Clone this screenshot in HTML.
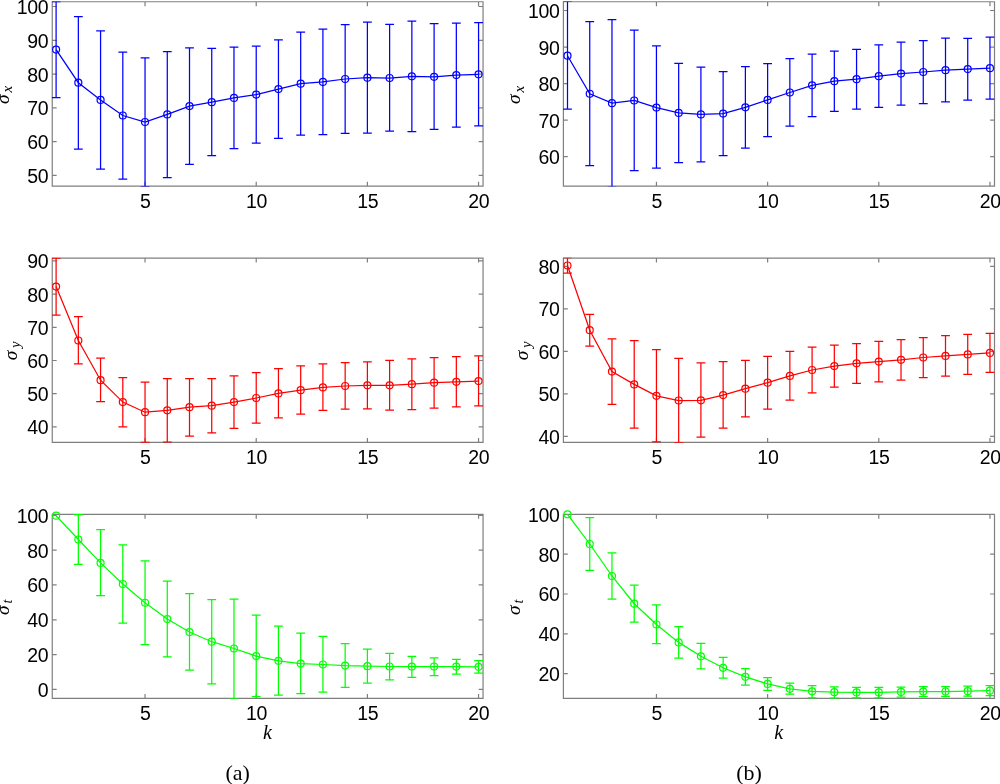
<!DOCTYPE html>
<html lang="en"><head><meta charset="utf-8"><title>Figure</title>
<style>
html,body{margin:0;padding:0;background:#fff;}
body{width:1000px;height:784px;overflow:hidden;}
svg{display:block;}
.t{font-family:"Liberation Sans",Arial,Helvetica,sans-serif;font-size:19.5px;letter-spacing:-0.3px;fill:#000;}
.m{font-family:"Liberation Serif","Times New Roman",serif;font-style:italic;fill:#000;}
.c{font-family:"Liberation Serif","Times New Roman",serif;font-size:22px;fill:#000;}
</style></head>
<body>
<svg width="1000" height="784" viewBox="0 0 1000 784">
<rect x="0" y="0" width="1000" height="784" fill="#fff"/>
<!-- P1 -->
<g>
<clipPath id="cP1"><rect x="51.9" y="1.4" width="431.5" height="185.15"/></clipPath>
<path d="M52.25 1.75H483.05V186.2H52.25ZM145.04 186.2v-4.4M145.04 1.75v4.4M256.22 186.2v-4.4M256.22 1.75v4.4M367.39 186.2v-4.4M367.39 1.75v4.4M478.56 186.2v-4.4M478.56 1.75v4.4M52.25 6.5h4.4M483.05 6.5h-4.4M52.25 40.28h4.4M483.05 40.28h-4.4M52.25 74.06h4.4M483.05 74.06h-4.4M52.25 107.84h4.4M483.05 107.84h-4.4M52.25 141.62h4.4M483.05 141.62h-4.4M52.25 175.4h4.4M483.05 175.4h-4.4" fill="none" stroke="#000" stroke-opacity="0.5" stroke-width="1.2"/>
<text class="t" x="48.4" y="13.98" text-anchor="end">100</text>
<text class="t" x="48.4" y="47.76" text-anchor="end">90</text>
<text class="t" x="48.4" y="81.54" text-anchor="end">80</text>
<text class="t" x="48.4" y="115.32" text-anchor="end">70</text>
<text class="t" x="48.4" y="149.1" text-anchor="end">60</text>
<text class="t" x="48.4" y="182.88" text-anchor="end">50</text>
<text class="t" x="145.34" y="207.65" text-anchor="middle">5</text>
<text class="t" x="256.52" y="207.65" text-anchor="middle">10</text>
<text class="t" x="367.69" y="207.65" text-anchor="middle">15</text>
<text class="t" x="478.87" y="207.65" text-anchor="middle">20</text>
<g clip-path="url(#cP1)" fill="none" stroke="#0000ff" stroke-width="1.25"><path d="M56.1 1.6V97.6M51.7 1.6h8.8M51.7 97.6h8.8M78.34 16.5V149M73.94 16.5h8.8M73.94 149h8.8M100.57 30.8V169.1M96.17 30.8h8.8M96.17 169.1h8.8M122.81 52.2V179.1M118.41 52.2h8.8M118.41 179.1h8.8M145.04 57.9V186.5M140.64 57.9h8.8M140.64 186.5h8.8M167.28 51.5V177.6M162.88 51.5h8.8M162.88 177.6h8.8M189.51 47.8V164.3M185.11 47.8h8.8M185.11 164.3h8.8M211.74 48.4V155.7M207.34 48.4h8.8M207.34 155.7h8.8M233.98 47.1V148.5M229.58 47.1h8.8M229.58 148.5h8.8M256.22 46V143M251.82 46h8.8M251.82 143h8.8M278.45 39.9V138.3M274.05 39.9h8.8M274.05 138.3h8.8M300.69 32V135.1M296.29 32h8.8M296.29 135.1h8.8M322.92 29.2V134.5M318.52 29.2h8.8M318.52 134.5h8.8M345.16 24.5V133.3M340.76 24.5h8.8M340.76 133.3h8.8M367.39 22.1V133M362.99 22.1h8.8M362.99 133h8.8M389.62 24.4V131.1M385.23 24.4h8.8M385.23 131.1h8.8M411.86 21.1V131.7M407.46 21.1h8.8M407.46 131.7h8.8M434.1 23.6V129.4M429.7 23.6h8.8M429.7 129.4h8.8M456.33 23V127M451.93 23h8.8M451.93 127h8.8M478.56 22.6V125.8M474.17 22.6h8.8M474.17 125.8h8.8"/><path d="M56.1 49.6L78.34 82.7L100.57 99.9L122.81 115.5L145.04 122L167.28 114.4L189.51 106.1L211.74 102.2L233.98 97.9L256.22 94.6L278.45 89.1L300.69 83.7L322.92 81.9L345.16 79L367.39 77.7L389.62 78L411.86 76.3L434.1 76.8L456.33 75.1L478.56 74.3"/></g>
<g fill="none" stroke="#0000ff" stroke-width="1.2"><circle cx="56.1" cy="49.6" r="3.5"/><circle cx="78.34" cy="82.7" r="3.5"/><circle cx="100.57" cy="99.9" r="3.5"/><circle cx="122.81" cy="115.5" r="3.5"/><circle cx="145.04" cy="122" r="3.5"/><circle cx="167.28" cy="114.4" r="3.5"/><circle cx="189.51" cy="106.1" r="3.5"/><circle cx="211.74" cy="102.2" r="3.5"/><circle cx="233.98" cy="97.9" r="3.5"/><circle cx="256.22" cy="94.6" r="3.5"/><circle cx="278.45" cy="89.1" r="3.5"/><circle cx="300.69" cy="83.7" r="3.5"/><circle cx="322.92" cy="81.9" r="3.5"/><circle cx="345.16" cy="79" r="3.5"/><circle cx="367.39" cy="77.7" r="3.5"/><circle cx="389.62" cy="78" r="3.5"/><circle cx="411.86" cy="76.3" r="3.5"/><circle cx="434.1" cy="76.8" r="3.5"/><circle cx="456.33" cy="75.1" r="3.5"/><circle cx="478.56" cy="74.3" r="3.5"/></g>
</g>
<!-- P2 -->
<g>
<clipPath id="cP2"><rect x="51.9" y="257.7" width="431.5" height="185.05"/></clipPath>
<path d="M52.25 258.05H483.05V442.4H52.25ZM145.04 442.4v-4.4M145.04 258.05v4.4M256.22 442.4v-4.4M256.22 258.05v4.4M367.39 442.4v-4.4M367.39 258.05v4.4M478.56 442.4v-4.4M478.56 258.05v4.4M52.25 260.9h4.4M483.05 260.9h-4.4M52.25 294.1h4.4M483.05 294.1h-4.4M52.25 327.3h4.4M483.05 327.3h-4.4M52.25 360.5h4.4M483.05 360.5h-4.4M52.25 393.7h4.4M483.05 393.7h-4.4M52.25 426.9h4.4M483.05 426.9h-4.4" fill="none" stroke="#000" stroke-opacity="0.5" stroke-width="1.2"/>
<text class="t" x="48.4" y="268.38" text-anchor="end">90</text>
<text class="t" x="48.4" y="301.58" text-anchor="end">80</text>
<text class="t" x="48.4" y="334.78" text-anchor="end">70</text>
<text class="t" x="48.4" y="367.98" text-anchor="end">60</text>
<text class="t" x="48.4" y="401.18" text-anchor="end">50</text>
<text class="t" x="48.4" y="434.38" text-anchor="end">40</text>
<text class="t" x="145.34" y="463.85" text-anchor="middle">5</text>
<text class="t" x="256.52" y="463.85" text-anchor="middle">10</text>
<text class="t" x="367.69" y="463.85" text-anchor="middle">15</text>
<text class="t" x="478.87" y="463.85" text-anchor="middle">20</text>
<g clip-path="url(#cP2)" fill="none" stroke="#ff0000" stroke-width="1.25"><path d="M56.1 258V315M51.7 258h8.8M51.7 315h8.8M78.34 316.5V363.8M73.94 316.5h8.8M73.94 363.8h8.8M100.57 358.1V401.7M96.17 358.1h8.8M96.17 401.7h8.8M122.81 377.6V426.8M118.41 377.6h8.8M118.41 426.8h8.8M145.04 382.1V442.4M140.64 382.1h8.8M140.64 442.4h8.8M167.28 378.7V442M162.88 378.7h8.8M162.88 442h8.8M189.51 378.5V436M185.11 378.5h8.8M185.11 436h8.8M211.74 378.5V432.8M207.34 378.5h8.8M207.34 432.8h8.8M233.98 375.8V428.3M229.58 375.8h8.8M229.58 428.3h8.8M256.22 372.5V423.2M251.82 372.5h8.8M251.82 423.2h8.8M278.45 368.6V417.9M274.05 368.6h8.8M274.05 417.9h8.8M300.69 365.9V414.2M296.29 365.9h8.8M296.29 414.2h8.8M322.92 363.8V410.4M318.52 363.8h8.8M318.52 410.4h8.8M345.16 362.7V409M340.76 362.7h8.8M340.76 409h8.8M367.39 361.8V408.9M362.99 361.8h8.8M362.99 408.9h8.8M389.62 360.3V410M385.23 360.3h8.8M385.23 410h8.8M411.86 358.8V409.7M407.46 358.8h8.8M407.46 409.7h8.8M434.1 357.5V408M429.7 357.5h8.8M429.7 408h8.8M456.33 356.5V406.9M451.93 356.5h8.8M451.93 406.9h8.8M478.56 355.8V405.9M474.17 355.8h8.8M474.17 405.9h8.8"/><path d="M56.1 286.6L78.34 340.5L100.57 380.2L122.81 402.1L145.04 412.2L167.28 410.3L189.51 407.2L211.74 405.7L233.98 402.1L256.22 398L278.45 393.4L300.69 390.2L322.92 387.4L345.16 386L367.39 385.3L389.62 385.3L411.86 384.2L434.1 382.7L456.33 381.8L478.56 381.1"/></g>
<g fill="none" stroke="#ff0000" stroke-width="1.2"><circle cx="56.1" cy="286.6" r="3.5"/><circle cx="78.34" cy="340.5" r="3.5"/><circle cx="100.57" cy="380.2" r="3.5"/><circle cx="122.81" cy="402.1" r="3.5"/><circle cx="145.04" cy="412.2" r="3.5"/><circle cx="167.28" cy="410.3" r="3.5"/><circle cx="189.51" cy="407.2" r="3.5"/><circle cx="211.74" cy="405.7" r="3.5"/><circle cx="233.98" cy="402.1" r="3.5"/><circle cx="256.22" cy="398" r="3.5"/><circle cx="278.45" cy="393.4" r="3.5"/><circle cx="300.69" cy="390.2" r="3.5"/><circle cx="322.92" cy="387.4" r="3.5"/><circle cx="345.16" cy="386" r="3.5"/><circle cx="367.39" cy="385.3" r="3.5"/><circle cx="389.62" cy="385.3" r="3.5"/><circle cx="411.86" cy="384.2" r="3.5"/><circle cx="434.1" cy="382.7" r="3.5"/><circle cx="456.33" cy="381.8" r="3.5"/><circle cx="478.56" cy="381.1" r="3.5"/></g>
</g>
<!-- P3 -->
<g>
<clipPath id="cP3"><rect x="51.9" y="514" width="431.5" height="184.75"/></clipPath>
<path d="M52.25 514.35H483.05V698.4H52.25ZM145.04 698.4v-4.4M145.04 514.35v4.4M256.22 698.4v-4.4M256.22 514.35v4.4M367.39 698.4v-4.4M367.39 514.35v4.4M478.56 698.4v-4.4M478.56 514.35v4.4M52.25 515.3h4.4M483.05 515.3h-4.4M52.25 550.13h4.4M483.05 550.13h-4.4M52.25 584.96h4.4M483.05 584.96h-4.4M52.25 619.79h4.4M483.05 619.79h-4.4M52.25 654.62h4.4M483.05 654.62h-4.4M52.25 689.45h4.4M483.05 689.45h-4.4" fill="none" stroke="#000" stroke-opacity="0.5" stroke-width="1.2"/>
<text class="t" x="48.4" y="522.78" text-anchor="end">100</text>
<text class="t" x="48.4" y="557.61" text-anchor="end">80</text>
<text class="t" x="48.4" y="592.44" text-anchor="end">60</text>
<text class="t" x="48.4" y="627.27" text-anchor="end">40</text>
<text class="t" x="48.4" y="662.1" text-anchor="end">20</text>
<text class="t" x="48.4" y="696.93" text-anchor="end">0</text>
<text class="t" x="145.34" y="719.85" text-anchor="middle">5</text>
<text class="t" x="256.52" y="719.85" text-anchor="middle">10</text>
<text class="t" x="367.69" y="719.85" text-anchor="middle">15</text>
<text class="t" x="478.87" y="719.85" text-anchor="middle">20</text>
<g clip-path="url(#cP3)" fill="none" stroke="#00ff00" stroke-width="1.25"><path d="M78.34 514.5V564.3M73.94 514.5h8.8M73.94 564.3h8.8M100.57 529.6V595.6M96.17 529.6h8.8M96.17 595.6h8.8M122.81 544.9V623.1M118.41 544.9h8.8M118.41 623.1h8.8M145.04 560.8V644.5M140.64 560.8h8.8M140.64 644.5h8.8M167.28 581.2V656.9M162.88 581.2h8.8M162.88 656.9h8.8M189.51 593.6V670.2M185.11 593.6h8.8M185.11 670.2h8.8M211.74 599.5V683.9M207.34 599.5h8.8M207.34 683.9h8.8M233.98 599.2V698.5M229.58 599.2h8.8M229.58 698.5h8.8M256.22 615.1V696.6M251.82 615.1h8.8M251.82 696.6h8.8M278.45 626.2V695.1M274.05 626.2h8.8M274.05 695.1h8.8M300.69 633.2V693.6M296.29 633.2h8.8M296.29 693.6h8.8M322.92 636.3V692.2M318.52 636.3h8.8M318.52 692.2h8.8M345.16 643.6V687.3M340.76 643.6h8.8M340.76 687.3h8.8M367.39 649V683.2M362.99 649h8.8M362.99 683.2h8.8M389.62 653.3V679.9M385.23 653.3h8.8M385.23 679.9h8.8M411.86 656.3V677.3M407.46 656.3h8.8M407.46 677.3h8.8M434.1 657.8V675.5M429.7 657.8h8.8M429.7 675.5h8.8M456.33 659.4V674M451.93 659.4h8.8M451.93 674h8.8M478.56 660.5V673.1M474.17 660.5h8.8M474.17 673.1h8.8"/><path d="M56.1 515.7L78.34 539.5L100.57 562.9L122.81 584L145.04 602.75L167.28 619.05L189.51 632.05L211.74 641.7L233.98 648.5L256.22 656.1L278.45 660.8L300.69 663.6L322.92 664.5L345.16 665.6L367.39 666.2L389.62 666.5L411.86 666.6L434.1 666.5L456.33 666.6L478.56 666.8"/></g>
<g fill="none" stroke="#00ff00" stroke-width="1.2"><circle cx="56.1" cy="515.7" r="3.5"/><circle cx="78.34" cy="539.5" r="3.5"/><circle cx="100.57" cy="562.9" r="3.5"/><circle cx="122.81" cy="584" r="3.5"/><circle cx="145.04" cy="602.75" r="3.5"/><circle cx="167.28" cy="619.05" r="3.5"/><circle cx="189.51" cy="632.05" r="3.5"/><circle cx="211.74" cy="641.7" r="3.5"/><circle cx="233.98" cy="648.5" r="3.5"/><circle cx="256.22" cy="656.1" r="3.5"/><circle cx="278.45" cy="660.8" r="3.5"/><circle cx="300.69" cy="663.6" r="3.5"/><circle cx="322.92" cy="664.5" r="3.5"/><circle cx="345.16" cy="665.6" r="3.5"/><circle cx="367.39" cy="666.2" r="3.5"/><circle cx="389.62" cy="666.5" r="3.5"/><circle cx="411.86" cy="666.6" r="3.5"/><circle cx="434.1" cy="666.5" r="3.5"/><circle cx="456.33" cy="666.6" r="3.5"/><circle cx="478.56" cy="666.8" r="3.5"/></g>
</g>
<!-- P4 -->
<g>
<clipPath id="cP4"><rect x="563.05" y="1.4" width="431.8" height="185.15"/></clipPath>
<path d="M563.4 1.75H994.5V186.2H563.4ZM656.44 186.2v-4.4M656.44 1.75v4.4M767.62 186.2v-4.4M767.62 1.75v4.4M878.79 186.2v-4.4M878.79 1.75v4.4M989.96 186.2v-4.4M989.96 1.75v4.4M563.4 10.5h4.4M994.5 10.5h-4.4M563.4 47.05h4.4M994.5 47.05h-4.4M563.4 83.6h4.4M994.5 83.6h-4.4M563.4 120.15h4.4M994.5 120.15h-4.4M563.4 156.7h4.4M994.5 156.7h-4.4" fill="none" stroke="#000" stroke-opacity="0.5" stroke-width="1.2"/>
<text class="t" x="559.55" y="17.98" text-anchor="end">100</text>
<text class="t" x="559.55" y="54.53" text-anchor="end">90</text>
<text class="t" x="559.55" y="91.08" text-anchor="end">80</text>
<text class="t" x="559.55" y="127.63" text-anchor="end">70</text>
<text class="t" x="559.55" y="164.18" text-anchor="end">60</text>
<text class="t" x="656.74" y="207.65" text-anchor="middle">5</text>
<text class="t" x="767.91" y="207.65" text-anchor="middle">10</text>
<text class="t" x="879.09" y="207.65" text-anchor="middle">15</text>
<text class="t" x="990.26" y="207.65" text-anchor="middle">20</text>
<g clip-path="url(#cP4)" fill="none" stroke="#0000ff" stroke-width="1.25"><path d="M567.5 1V109.2M563.1 1h8.8M563.1 109.2h8.8M589.74 21.6V165.5M585.34 21.6h8.8M585.34 165.5h8.8M611.97 19.6V187M607.57 19.6h8.8M607.57 187h8.8M634.21 30.2V170.6M629.81 30.2h8.8M629.81 170.6h8.8M656.44 45.9V168.2M652.04 45.9h8.8M652.04 168.2h8.8M678.67 63.3V162.5M674.27 63.3h8.8M674.27 162.5h8.8M700.91 67.1V161.8M696.51 67.1h8.8M696.51 161.8h8.8M723.14 71.5V155.7M718.75 71.5h8.8M718.75 155.7h8.8M745.38 66.5V148.1M740.98 66.5h8.8M740.98 148.1h8.8M767.62 63.6V136.6M763.22 63.6h8.8M763.22 136.6h8.8M789.85 58.5V126.2M785.45 58.5h8.8M785.45 126.2h8.8M812.09 54.2V116.7M807.69 54.2h8.8M807.69 116.7h8.8M834.32 51V111.3M829.92 51h8.8M829.92 111.3h8.8M856.56 49.4V109.1M852.16 49.4h8.8M852.16 109.1h8.8M878.79 44.9V107.3M874.39 44.9h8.8M874.39 107.3h8.8M901.02 42.2V105.1M896.62 42.2h8.8M896.62 105.1h8.8M923.26 40.5V103.6M918.86 40.5h8.8M918.86 103.6h8.8M945.5 38V101.8M941.1 38h8.8M941.1 101.8h8.8M967.73 38.3V100M963.33 38.3h8.8M963.33 100h8.8M989.96 37.1V99.2M985.56 37.1h8.8M985.56 99.2h8.8"/><path d="M567.5 55.7L589.74 93.75L611.97 103.15L634.21 100.5L656.44 107.55L678.67 112.9L700.91 114.45L723.14 113.6L745.38 107.3L767.62 99.9L789.85 92.5L812.09 85.3L834.32 81.2L856.56 79.2L878.79 76.2L901.02 73.6L923.26 72L945.5 70.2L967.73 69.1L989.96 68.2"/></g>
<g fill="none" stroke="#0000ff" stroke-width="1.2"><circle cx="567.5" cy="55.7" r="3.5"/><circle cx="589.74" cy="93.75" r="3.5"/><circle cx="611.97" cy="103.15" r="3.5"/><circle cx="634.21" cy="100.5" r="3.5"/><circle cx="656.44" cy="107.55" r="3.5"/><circle cx="678.67" cy="112.9" r="3.5"/><circle cx="700.91" cy="114.45" r="3.5"/><circle cx="723.14" cy="113.6" r="3.5"/><circle cx="745.38" cy="107.3" r="3.5"/><circle cx="767.62" cy="99.9" r="3.5"/><circle cx="789.85" cy="92.5" r="3.5"/><circle cx="812.09" cy="85.3" r="3.5"/><circle cx="834.32" cy="81.2" r="3.5"/><circle cx="856.56" cy="79.2" r="3.5"/><circle cx="878.79" cy="76.2" r="3.5"/><circle cx="901.02" cy="73.6" r="3.5"/><circle cx="923.26" cy="72" r="3.5"/><circle cx="945.5" cy="70.2" r="3.5"/><circle cx="967.73" cy="69.1" r="3.5"/><circle cx="989.96" cy="68.2" r="3.5"/></g>
</g>
<!-- P5 -->
<g>
<clipPath id="cP5"><rect x="563.05" y="257.7" width="431.8" height="185.05"/></clipPath>
<path d="M563.4 258.05H994.5V442.4H563.4ZM656.44 442.4v-4.4M656.44 258.05v4.4M767.62 442.4v-4.4M767.62 258.05v4.4M878.79 442.4v-4.4M878.79 258.05v4.4M989.96 442.4v-4.4M989.96 258.05v4.4M563.4 266.45h4.4M994.5 266.45h-4.4M563.4 308.94h4.4M994.5 308.94h-4.4M563.4 351.43h4.4M994.5 351.43h-4.4M563.4 393.92h4.4M994.5 393.92h-4.4M563.4 436.41h4.4M994.5 436.41h-4.4" fill="none" stroke="#000" stroke-opacity="0.5" stroke-width="1.2"/>
<text class="t" x="559.55" y="273.93" text-anchor="end">80</text>
<text class="t" x="559.55" y="316.42" text-anchor="end">70</text>
<text class="t" x="559.55" y="358.91" text-anchor="end">60</text>
<text class="t" x="559.55" y="401.4" text-anchor="end">50</text>
<text class="t" x="559.55" y="443.89" text-anchor="end">40</text>
<text class="t" x="656.74" y="463.85" text-anchor="middle">5</text>
<text class="t" x="767.91" y="463.85" text-anchor="middle">10</text>
<text class="t" x="879.09" y="463.85" text-anchor="middle">15</text>
<text class="t" x="990.26" y="463.85" text-anchor="middle">20</text>
<g clip-path="url(#cP5)" fill="none" stroke="#ff0000" stroke-width="1.25"><path d="M567.5 257.5V273.2M563.1 257.5h8.8M563.1 273.2h8.8M589.74 314.4V346M585.34 314.4h8.8M585.34 346h8.8M611.97 338.8V404.4M607.57 338.8h8.8M607.57 404.4h8.8M634.21 340.7V428M629.81 340.7h8.8M629.81 428h8.8M656.44 349.6V441.8M652.04 349.6h8.8M652.04 441.8h8.8M678.67 358.4V442.6M674.27 358.4h8.8M674.27 442.6h8.8M700.91 362.9V437.1M696.51 362.9h8.8M696.51 437.1h8.8M723.14 361.6V428.2M718.75 361.6h8.8M718.75 428.2h8.8M745.38 360.4V416.8M740.98 360.4h8.8M740.98 416.8h8.8M767.62 356.3V409.1M763.22 356.3h8.8M763.22 409.1h8.8M789.85 351.4V400.1M785.45 351.4h8.8M785.45 400.1h8.8M812.09 347.2V392.9M807.69 347.2h8.8M807.69 392.9h8.8M834.32 345.2V387M829.92 345.2h8.8M829.92 387h8.8M856.56 343.7V383.3M852.16 343.7h8.8M852.16 383.3h8.8M878.79 341.3V381.9M874.39 341.3h8.8M874.39 381.9h8.8M901.02 339.5V380.1M896.62 339.5h8.8M896.62 380.1h8.8M923.26 337.5V377.6M918.86 337.5h8.8M918.86 377.6h8.8M945.5 335.6V376.1M941.1 335.6h8.8M941.1 376.1h8.8M967.73 334.4V374.4M963.33 334.4h8.8M963.33 374.4h8.8M989.96 333.3V372.3M985.56 333.3h8.8M985.56 372.3h8.8"/><path d="M567.5 265.5L589.74 330.2L611.97 371.6L634.21 384.4L656.44 395.8L678.67 400.5L700.91 400.3L723.14 395.1L745.38 388.7L767.62 382.7L789.85 375.9L812.09 370L834.32 366.1L856.56 363.3L878.79 361.6L901.02 359.8L923.26 357.5L945.5 355.9L967.73 354.4L989.96 352.9"/></g>
<g fill="none" stroke="#ff0000" stroke-width="1.2"><circle cx="567.5" cy="265.5" r="3.5"/><circle cx="589.74" cy="330.2" r="3.5"/><circle cx="611.97" cy="371.6" r="3.5"/><circle cx="634.21" cy="384.4" r="3.5"/><circle cx="656.44" cy="395.8" r="3.5"/><circle cx="678.67" cy="400.5" r="3.5"/><circle cx="700.91" cy="400.3" r="3.5"/><circle cx="723.14" cy="395.1" r="3.5"/><circle cx="745.38" cy="388.7" r="3.5"/><circle cx="767.62" cy="382.7" r="3.5"/><circle cx="789.85" cy="375.9" r="3.5"/><circle cx="812.09" cy="370" r="3.5"/><circle cx="834.32" cy="366.1" r="3.5"/><circle cx="856.56" cy="363.3" r="3.5"/><circle cx="878.79" cy="361.6" r="3.5"/><circle cx="901.02" cy="359.8" r="3.5"/><circle cx="923.26" cy="357.5" r="3.5"/><circle cx="945.5" cy="355.9" r="3.5"/><circle cx="967.73" cy="354.4" r="3.5"/><circle cx="989.96" cy="352.9" r="3.5"/></g>
</g>
<!-- P6 -->
<g>
<clipPath id="cP6"><rect x="563.05" y="514" width="431.8" height="184.75"/></clipPath>
<path d="M563.4 514.35H994.5V698.4H563.4ZM656.44 698.4v-4.4M656.44 514.35v4.4M767.62 698.4v-4.4M767.62 514.35v4.4M878.79 698.4v-4.4M878.79 514.35v4.4M989.96 698.4v-4.4M989.96 514.35v4.4M563.4 514.35h4.4M994.5 514.35h-4.4M563.4 554.18h4.4M994.5 554.18h-4.4M563.4 594.01h4.4M994.5 594.01h-4.4M563.4 633.84h4.4M994.5 633.84h-4.4M563.4 673.67h4.4M994.5 673.67h-4.4" fill="none" stroke="#000" stroke-opacity="0.5" stroke-width="1.2"/>
<text class="t" x="559.55" y="521.83" text-anchor="end">100</text>
<text class="t" x="559.55" y="561.66" text-anchor="end">80</text>
<text class="t" x="559.55" y="601.49" text-anchor="end">60</text>
<text class="t" x="559.55" y="641.32" text-anchor="end">40</text>
<text class="t" x="559.55" y="681.15" text-anchor="end">20</text>
<text class="t" x="656.74" y="719.85" text-anchor="middle">5</text>
<text class="t" x="767.91" y="719.85" text-anchor="middle">10</text>
<text class="t" x="879.09" y="719.85" text-anchor="middle">15</text>
<text class="t" x="990.26" y="719.85" text-anchor="middle">20</text>
<g clip-path="url(#cP6)" fill="none" stroke="#00ff00" stroke-width="1.25"><path d="M589.74 517.5V570.3M585.34 517.5h8.8M585.34 570.3h8.8M611.97 552.8V599.1M607.57 552.8h8.8M607.57 599.1h8.8M634.21 585.2V622M629.81 585.2h8.8M629.81 622h8.8M656.44 604.8V643.6M652.04 604.8h8.8M652.04 643.6h8.8M678.67 626.6V658M674.27 626.6h8.8M674.27 658h8.8M700.91 643.4V668.8M696.51 643.4h8.8M696.51 668.8h8.8M723.14 657.4V678.2M718.75 657.4h8.8M718.75 678.2h8.8M745.38 668.5V685.2M740.98 668.5h8.8M740.98 685.2h8.8M767.62 677.5V690.3M763.22 677.5h8.8M763.22 690.3h8.8M789.85 683.2V694.2M785.45 683.2h8.8M785.45 694.2h8.8M812.09 685.5V697.8M807.69 685.5h8.8M807.69 697.8h8.8M834.32 686.8V698M829.92 686.8h8.8M829.92 698h8.8M856.56 687.3V697.8M852.16 687.3h8.8M852.16 697.8h8.8M878.79 687.3V697.8M874.39 687.3h8.8M874.39 697.8h8.8M901.02 687V697M896.62 687h8.8M896.62 697h8.8M923.26 686.7V696.6M918.86 686.7h8.8M918.86 696.6h8.8M945.5 686.5V696.3M941.1 686.5h8.8M941.1 696.3h8.8M967.73 686.1V696M963.33 686.1h8.8M963.33 696h8.8M989.96 685.6V695.5M985.56 685.6h8.8M985.56 695.5h8.8"/><path d="M567.5 514.3L589.74 544L611.97 576L634.21 603.7L656.44 624.5L678.67 642.4L700.91 656.3L723.14 667.8L745.38 676.8L767.62 683.9L789.85 688.8L812.09 691.3L834.32 692.2L856.56 692.45L878.79 692.4L901.02 691.9L923.26 691.6L945.5 691.5L967.73 691.2L989.96 690.7"/></g>
<g fill="none" stroke="#00ff00" stroke-width="1.2"><circle cx="567.5" cy="514.3" r="3.5"/><circle cx="589.74" cy="544" r="3.5"/><circle cx="611.97" cy="576" r="3.5"/><circle cx="634.21" cy="603.7" r="3.5"/><circle cx="656.44" cy="624.5" r="3.5"/><circle cx="678.67" cy="642.4" r="3.5"/><circle cx="700.91" cy="656.3" r="3.5"/><circle cx="723.14" cy="667.8" r="3.5"/><circle cx="745.38" cy="676.8" r="3.5"/><circle cx="767.62" cy="683.9" r="3.5"/><circle cx="789.85" cy="688.8" r="3.5"/><circle cx="812.09" cy="691.3" r="3.5"/><circle cx="834.32" cy="692.2" r="3.5"/><circle cx="856.56" cy="692.45" r="3.5"/><circle cx="878.79" cy="692.4" r="3.5"/><circle cx="901.02" cy="691.9" r="3.5"/><circle cx="923.26" cy="691.6" r="3.5"/><circle cx="945.5" cy="691.5" r="3.5"/><circle cx="967.73" cy="691.2" r="3.5"/><circle cx="989.96" cy="690.7" r="3.5"/></g>
</g>
<text class="m" font-size="19.5" transform="translate(8.6 103.9) rotate(-90)">σ</text><text class="m" font-size="15.2" transform="translate(12.3 92.5) rotate(-90)">x</text>
<text class="m" font-size="19.5" transform="translate(16.9 360.3) rotate(-90)">σ</text><text class="m" font-size="14" transform="translate(19.5 347.7) rotate(-90)">y</text>
<text class="m" font-size="19.5" transform="translate(8.6 615.1) rotate(-90)">σ</text><text class="m" font-size="14" transform="translate(11.6 603.6) rotate(-90)">t</text>
<text class="m" font-size="19.5" transform="translate(519.9 103.9) rotate(-90)">σ</text><text class="m" font-size="15.2" transform="translate(523.6 92.5) rotate(-90)">x</text>
<text class="m" font-size="19.5" transform="translate(528 360.3) rotate(-90)">σ</text><text class="m" font-size="14" transform="translate(530.6 347.7) rotate(-90)">y</text>
<text class="m" font-size="19.5" transform="translate(519.9 615.1) rotate(-90)">σ</text><text class="m" font-size="14" transform="translate(522.9 603.6) rotate(-90)">t</text>
<text class="m" font-size="20" x="267.4" y="738.6" text-anchor="middle">k</text>
<text class="m" font-size="20" x="778.7" y="738.6" text-anchor="middle">k</text>
<text class="c" x="237.75" y="779.8" text-anchor="middle">(a)</text>
<text class="c" x="749" y="779.8" text-anchor="middle">(b)</text>
</svg>
</body></html>
